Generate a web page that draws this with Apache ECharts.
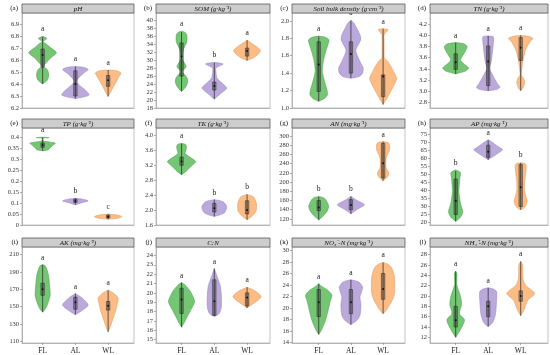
<!DOCTYPE html>
<html><head><meta charset="utf-8">
<script src="https://cdn.jsdelivr.net/npm/echarts@6/dist/echarts.min.js"></script>
<style>html,body{margin:0;padding:0;background:#fff}#c{width:550px;height:355px}</style>
</head><body><div id="c"></div>
<script>
// ---------------- DATA ----------------
const groups = ['FL', 'AL', 'WL'];
const panelTitles = ['pH', 'SOM (g·kg⁻¹)', 'Soil bulk density (g·cm⁻³)', 'TN (g·kg⁻¹)',
  'TP (g·kg⁻¹)', 'TK (g·kg⁻¹)', 'AN (mg·kg⁻¹)', 'AP (mg·kg⁻¹)',
  'AK (mg·kg⁻¹)', 'C:N', 'NO₃⁻-N (mg·kg⁻¹)', 'NH₄⁺-N (mg·kg⁻¹)'];
const panelLabels = ['(a)', '(b)', '(c)', '(d)', '(e)', '(f)', '(g)', '(h)', '(i)', '(j)', '(k)', '(l)'];

// y tick labels
const pH_ticks = ['6.2','6.3','6.4','6.5','6.6','6.7','6.8','6.9'];
const SOM_ticks = ['18','20','22','24','26','28','30','32','34','36','38','40'];
const BD_ticks = ['1.0','1.2','1.4','1.6','1.8','2.0'];
const TN_ticks = ['2.8','3.0','3.2','3.4','3.6','3.8','4.0','4.2'];
const TP_ticks = ['0','0.05','0.1','0.15','0.2','0.25','0.3','0.35','0.4'];
const TK_ticks = ['1.6','2.0','2.4','2.8','3.2','3.6','4.0'];
const AN_ticks = ['120','140','160','180','200','220','240','260','280','300'];
const AP_ticks = ['20','25','30','35','40','45','50','55','60','65','70','75'];
const AK_ticks = ['110','130','150','170','190','210'];
const CN_ticks = ['15','16','17','18','19','20','21','22','23','24'];
const NO3_ticks = ['14','16','18','20','22','24','26','28','30'];
const NH4_ticks = ['12','14','16','18','20','22','24','26','28'];

// axis ranges [min, max]
const pH_range = [6.2, 6.99];
const SOM_range = [18, 41.8];
const BD_range = [1.0, 2.09];
const TN_range = [2.7, 4.4];
const TP_range = [0, 0.443];
const TK_range = [1.6, 4.2];
const AN_range = [106.8, 317.6];
const AP_range = [18.5, 78.7];
const AK_range = [108, 218.8];
const CN_range = [14.65, 24.9];
const NO3_range = [13.9, 30.6];
const NH4_range = [10.9, 29.5];

// violin profiles: [value, half width (in category units)]
const pH_FL = [[6.796,0],[6.786,0.09],[6.777,0.13],[6.765,0.07],[6.75,0.01],[6.735,0.1],[6.70,0.25],[6.66,0.42],[6.62,0.26],[6.58,0.12],[6.545,0.02],[6.53,0.1],[6.51,0.16],[6.475,0.185],[6.44,0.16],[6.42,0.1],[6.40,0]];
const pH_AL = [[6.545,0],[6.538,0.25],[6.52,0.39],[6.49,0.25],[6.45,0.1],[6.42,0.03],[6.39,0.12],[6.35,0.3],[6.31,0.42],[6.295,0.3],[6.278,0]];
const pH_WL = [[6.516,0],[6.512,0.22],[6.50,0.35],[6.49,0.39],[6.46,0.33],[6.42,0.25],[6.38,0.17],[6.34,0.09],[6.31,0.03],[6.296,0]];
const SOM_FL = [[37.25,0],[37.0,0.1],[36.3,0.16],[34.6,0.16],[33.5,0.1],[32.5,0.05],[31.5,0.03],[30.4,0.02],[29.5,0.07],[28.4,0.14],[27.6,0.07],[27.1,0.02],[26.3,0.1],[25.5,0.17],[24.6,0.19],[23.6,0.15],[22.8,0.08],[22.1,0]];
const SOM_AL = [[29.45,0],[29.2,0.2],[29.0,0.27],[28.5,0.15],[28.0,0.05],[27.0,0.05],[25.5,0.08],[24.5,0.2],[23.5,0.33],[23.0,0.38],[22.3,0.3],[21.3,0.15],[20.2,0]];
const SOM_WL = [[35.0,0],[34.2,0.14],[33.4,0.28],[32.5,0.41],[31.8,0.37],[31.0,0.27],[30.4,0.15],[29.9,0]];
const BD_FL = [[1.825,0],[1.81,0.22],[1.78,0.32],[1.72,0.28],[1.65,0.22],[1.55,0.15],[1.475,0.12],[1.42,0.11],[1.35,0.15],[1.28,0.2],[1.20,0.26],[1.15,0.27],[1.11,0.18],[1.076,0]];
const BD_AL = [[2.01,0],[1.97,0.1],[1.90,0.2],[1.83,0.29],[1.78,0.3],[1.72,0.22],[1.665,0.15],[1.60,0.2],[1.52,0.3],[1.46,0.38],[1.40,0.36],[1.36,0.25],[1.34,0]];
const BD_WL = [[1.91,0],[1.90,0.15],[1.88,0.12],[1.84,0.03],[1.80,0.03],[1.65,0.03],[1.57,0.04],[1.54,0.13],[1.48,0.24],[1.42,0.32],[1.34,0.42],[1.27,0.35],[1.18,0.22],[1.10,0.1],[1.04,0]];
const TN_FL = [[3.87,0],[3.85,0.25],[3.80,0.35],[3.72,0.3],[3.64,0.22],[3.56,0.15],[3.49,0.25],[3.44,0.36],[3.41,0.40],[3.36,0.3],[3.31,0]];
const TN_AL = [[3.99,0],[3.98,0.15],[3.95,0.17],[3.80,0.15],[3.65,0.12],[3.50,0.08],[3.41,0.03],[3.33,0.1],[3.22,0.2],[3.14,0.28],[3.07,0.36],[3.03,0.25],[3.01,0]];
const TN_WL = [[4.0,0],[3.98,0.25],[3.945,0.38],[3.90,0.3],[3.82,0.22],[3.74,0.15],[3.56,0.07],[3.38,0.03],[3.29,0.02],[3.24,0.08],[3.17,0.12],[3.10,0.1],[3.03,0.04],[3.01,0]];
const TP_FL = [[0.401,0],[0.399,0.2],[0.396,0.01],[0.385,0.02],[0.379,0.2],[0.374,0.39],[0.366,0.33],[0.359,0.28],[0.352,0.22],[0.344,0.18],[0.339,0]];
const TP_AL = [[0.122,0],[0.118,0.22],[0.11,0.39],[0.102,0.2],[0.092,0]];
const TP_WL = [[0.05,0],[0.045,0.3],[0.038,0.42],[0.031,0.3],[0.026,0]];
const TK_FL = [[3.79,0],[3.76,0.12],[3.70,0.15],[3.60,0.13],[3.52,0.11],[3.42,0.25],[3.30,0.43],[3.18,0.3],[3.05,0.15],[2.95,0]];
const TK_AL = [[2.28,0],[2.25,0.18],[2.20,0.3],[2.08,0.38],[1.94,0.32],[1.88,0.2],[1.83,0]];
const TK_WL = [[2.42,0],[2.38,0.14],[2.35,0.2],[2.20,0.28],[1.99,0.28],[1.88,0.2],[1.80,0.1],[1.74,0]];
const AN_FL = [[169,0],[166,0.15],[161.7,0.22],[155,0.27],[147,0.31],[138,0.27],[128,0.16],[117.8,0]];
const AN_AL = [[169,0],[160,0.2],[150.7,0.42],[141,0.2],[131,0]];
const AN_WL = [[288,0],[286,0.15],[282,0.2],[270,0.2],[262,0.15],[253,0.1],[238.5,0.08],[230,0.1],[224,0.15],[218,0.18],[210,0.12],[203,0]];
const AP_FL = [[52.8,0],[51.5,0.12],[50.7,0.15],[48,0.13],[45.5,0.12],[39.3,0.1],[34,0.13],[31,0.16],[26.8,0.22],[24,0.17],[22,0.08],[20.6,0]];
const AP_AL = [[71.5,0],[69,0.18],[67,0.32],[65.2,0.44],[63,0.3],[61,0.15],[59,0]];
const AP_WL = [[57.3,0],[56.5,0.14],[55,0.17],[50,0.15],[45,0.12],[40,0.12],[35.5,0.17],[33.5,0.2],[31,0.17],[29,0.1],[27.9,0]];
const AK_FL = [[198.5,0],[197,0.08],[194,0.12],[186,0.18],[175,0.21],[163,0.23],[156,0.18],[150,0.12],[146,0.06],[143.6,0]];
const AK_AL = [[165,0],[160,0.2],[152,0.39],[146,0.22],[140.5,0]];
const AK_WL = [[169,0],[166,0.15],[162,0.27],[159.6,0.31],[152,0.27],[144,0.22],[135,0.14],[127,0.07],[120.7,0]];
const CN_FL = [[21.1,0],[20.8,0.12],[20.2,0.26],[19.6,0.35],[19.06,0.40],[18.3,0.3],[17.5,0.18],[16.8,0.08],[16.34,0]];
const CN_AL = [[22.6,0],[22.0,0.06],[21.4,0.12],[20.8,0.18],[20.0,0.21],[19.2,0.22],[18.4,0.21],[17.8,0.15],[17.6,0.08],[17.5,0]];
const CN_WL = [[20.6,0],[20.2,0.25],[19.6,0.43],[19.0,0.25],[18.4,0]];
const NO3_FL = [[24.2,0],[23.9,0.06],[23.65,0.12],[23.0,0.3],[22.2,0.41],[21.2,0.36],[19.3,0.28],[18.0,0.22],[17.0,0.15],[16.0,0.07],[15.4,0]];
const NO3_AL = [[24.9,0],[24.7,0.15],[24.5,0.25],[23.65,0.36],[22.8,0.33],[21.9,0.28],[20.5,0.31],[18.7,0.28],[17.8,0.18],[17.1,0]];
const NO3_WL = [[27.9,0],[27.6,0.15],[27.1,0.25],[26.0,0.33],[25.1,0.36],[22.8,0.36],[21.5,0.3],[20.5,0.2],[19.6,0.1],[19.0,0]];
const NH4_FL = [[24.8,0],[24.5,0.03],[24.0,0.04],[22.4,0.03],[21.2,0.08],[19.9,0.15],[18.3,0.18],[17.0,0.12],[16.4,0.13],[15.4,0.27],[14.1,0.2],[13.0,0.1],[12.0,0]];
const NH4_AL = [[21.6,0],[21.3,0.18],[20.8,0.26],[18.3,0.25],[16.35,0.22],[15.0,0.15],[14.4,0.07],[14.1,0]];
const NH4_WL = [[26.7,0],[26.3,0.04],[26.0,0.06],[23.4,0.07],[22.4,0.12],[21.8,0.2],[20.5,0.43],[19.2,0.22],[17.6,0.12],[16.8,0.06],[16.2,0]];

// box stats per group: [min, q1, median, q3, max]
const pH_box = [[6.40,6.54,6.64,6.69,6.79],[6.278,6.30,6.40,6.51,6.545],[6.296,6.38,6.43,6.47,6.516]];
const SOM_box = [[22.2,26.0,30.9,34.3,37.0],[20.3,22.5,23.5,24.5,29.3],[29.9,31.0,32.3,33.0,35.0]];
const BD_box = [[1.08,1.19,1.50,1.76,1.82],[1.345,1.40,1.62,1.76,2.0],[1.04,1.13,1.36,1.38,1.91]];
const TN_box = [[3.31,3.39,3.52,3.67,3.87],[3.01,3.10,3.53,3.81,3.99],[3.01,3.55,3.78,3.96,4.0]];
const TP_box = [[0.339,0.355,0.365,0.375,0.40],[0.093,0.103,0.11,0.118,0.122],[0.026,0.032,0.038,0.045,0.05]];
const TK_box = [[2.95,3.20,3.30,3.42,3.78],[1.83,1.95,2.05,2.18,2.28],[1.74,1.90,2.00,2.25,2.42]];
const AN_box = [[118,138,145,160,168],[131,140,150,162,169],[203,209,241,284,288]];
const AP_box = [[20.8,25,33.5,47,52],[59,60.5,64,68,71],[28,30,42,56,57]];
const AK_box = [[143.6,163,170,177,198],[141,147,155,161,165],[121,146,151,156,169]];
const CN_box = [[16.34,17.8,19.3,20.5,21.1],[17.5,17.6,19.1,21.4,22.6],[18.4,18.6,19.5,20.0,20.6]];
const NO3_box = [[15.4,18.5,21.0,23.2,24.2],[17.1,19.0,21.0,23.2,24.9],[19.0,21.5,23.3,26.0,27.9]];
const NH4_box = [[12.0,14.0,15.3,18.0,24.8],[14.1,16.0,18.0,19.0,21.6],[16.2,19.0,20.0,21.0,26.7]];

// significance letters
const pH_letters = ['a','a','a'];
const SOM_letters = ['a','b','a'];
const BD_letters = ['a','a','a'];
const TN_letters = ['a','a','a'];
const TP_letters = ['a','b','c'];
const TK_letters = ['a','b','b'];
const AN_letters = ['b','b','a'];
const AP_letters = ['b','a','b'];
const AK_letters = ['a','a','a'];
const CN_letters = ['a','a','a'];
const NO3_letters = ['a','a','a'];
const NH4_letters = ['a','a','a'];

// ---------------- LAYOUT / STYLE ----------------
const colLeft = [22, 156, 292, 430];
const colWidth = [112, 114, 113, 118];
const rowTop = [13, 128, 247];
const rowHeight = [95, 97, 96];
const headerH = 9;
const colXRange = [[0.37, 3.79], [0.22, 3.70], [0.17, 3.68], [0.21, 3.84]];
const fills = ['#68c068', '#b6a2d8', '#fbb67b'];
const edges = ['#4f9f4f', '#9885c2', '#e49b5e'];
const SERIF = '"Liberation Serif","Times New Roman",serif';

const panels = [
  [pH_ticks, pH_range, [pH_FL, pH_AL, pH_WL], pH_box, pH_letters],
  [SOM_ticks, SOM_range, [SOM_FL, SOM_AL, SOM_WL], SOM_box, SOM_letters],
  [BD_ticks, BD_range, [BD_FL, BD_AL, BD_WL], BD_box, BD_letters],
  [TN_ticks, TN_range, [TN_FL, TN_AL, TN_WL], TN_box, TN_letters],
  [TP_ticks, TP_range, [TP_FL, TP_AL, TP_WL], TP_box, TP_letters],
  [TK_ticks, TK_range, [TK_FL, TK_AL, TK_WL], TK_box, TK_letters],
  [AN_ticks, AN_range, [AN_FL, AN_AL, AN_WL], AN_box, AN_letters],
  [AP_ticks, AP_range, [AP_FL, AP_AL, AP_WL], AP_box, AP_letters],
  [AK_ticks, AK_range, [AK_FL, AK_AL, AK_WL], AK_box, AK_letters],
  [CN_ticks, CN_range, [CN_FL, CN_AL, CN_WL], CN_box, CN_letters],
  [NO3_ticks, NO3_range, [NO3_FL, NO3_AL, NO3_WL], NO3_box, NO3_letters],
  [NH4_ticks, NH4_range, [NH4_FL, NH4_AL, NH4_WL], NH4_box, NH4_letters]
];

const grid = [], xAxis = [], yAxis = [], series = [], graphic = [];
panels.forEach((p, k) => {
  const r = Math.floor(k / 4), c = k % 4;
  const [ticks, range, profs, boxes, letters] = p;
  const left = colLeft[c], top = rowTop[r], w = colWidth[c], h = rowHeight[r];
  grid.push({left: left, top: top, width: w, height: h, show: true,
    borderColor: '#b4b4b4', borderWidth: 0.8, backgroundColor: '#fff'});
  const bottomRow = r === 2;
  xAxis.push({type: 'value', gridIndex: k, min: colXRange[c][0], max: colXRange[c][1],
    splitLine: {show: false},
    axisLine: {show: true, lineStyle: {color: '#a8a8a8', width: 0.8}},
    axisTick: {show: bottomRow, customValues: [1, 2, 3], length: 2, lineStyle: {color: '#777', width: 0.6}},
    axisLabel: {show: bottomRow, customValues: [1, 2, 3], formatter: v => groups[Math.round(v) - 1] || '',
      fontFamily: SERIF, fontSize: 7.5, color: '#222', margin: 4}
  });
  const tv = ticks.map(Number);
  yAxis.push({type: 'value', gridIndex: k, min: range[0], max: range[1],
    splitLine: {show: false},
    axisLine: {show: true, lineStyle: {color: '#a8a8a8', width: 0.8}},
    axisTick: {show: true, customValues: tv, length: 2, lineStyle: {color: '#777', width: 0.6}},
    axisLabel: {show: true, customValues: tv, margin: 3, fontFamily: SERIF, fontSize: 6.5, color: '#333',
      formatter: v => { const i = tv.findIndex(t => Math.abs(t - v) < 1e-9); return i >= 0 ? ticks[i] : ''; }}
  });
  series.push({
    type: 'custom', xAxisIndex: k, yAxisIndex: k,
    data: groups.map((g, i) => [i + 1]),
    renderItem: function (params, api) {
      const i = params.dataIndex, gx = api.value(0);
      const prof = profs[i], b = boxes[i];
      const pts = [];
      prof.forEach(d => pts.push(api.coord([gx - d[1], d[0]])));
      for (let j = prof.length - 1; j >= 0; j--) pts.push(api.coord([gx + prof[j][1], prof[j][0]]));
      const pMin = api.coord([gx, b[0]]), pQ1 = api.coord([gx, b[1]]), pMed = api.coord([gx, b[2]]),
            pQ3 = api.coord([gx, b[3]]), pMax = api.coord([gx, b[4]]);
      const topV = Math.max(b[4], prof[0][0]);
      const pTop = api.coord([gx, topV]);
      const bw = 3.4;
      return {type: 'group', children: [
        {type: 'polygon', shape: {points: pts, smooth: 0.25},
          style: {fill: fills[i], stroke: edges[i], lineWidth: 0.6, opacity: 0.92}},
        {type: 'line', shape: {x1: pMin[0], y1: pMin[1], x2: pMax[0], y2: pMax[1]},
          style: {stroke: '#222', lineWidth: 0.7}},
        {type: 'rect', shape: {x: pQ3[0] - bw / 2, y: pQ3[1], width: bw, height: pQ1[1] - pQ3[1]},
          style: {fill: 'rgba(40,40,40,0.35)', stroke: '#222', lineWidth: 0.5}},
        {type: 'circle', shape: {cx: pMed[0], cy: pMed[1], r: 1.0}, style: {fill: '#111'}},
        {type: 'text', style: {text: letters[i], x: pTop[0], y: pTop[1] - 7, align: 'center',
          verticalAlign: 'middle', fontFamily: SERIF, fontSize: 7.5, fill: '#222'}}
      ]};
    }
  });
  // header strip
  graphic.push({type: 'rect', shape: {x: left, y: top - headerH, width: w, height: headerH},
    style: {fill: '#cdcdcd', stroke: '#5a5a5a', lineWidth: 0.8}, z: 10});
  graphic.push({type: 'text', style: {text: panelTitles[k], x: left + w / 2, y: top - headerH / 2 + 0.3,
    align: 'center', verticalAlign: 'middle', fontFamily: SERIF, fontStyle: 'italic', fontSize: 7, fill: '#111'}, z: 11});
  graphic.push({type: 'text', style: {text: panelLabels[k], x: left - 4, y: top - headerH / 2,
    align: 'right', verticalAlign: 'middle', fontFamily: SERIF, fontSize: 7, fill: '#111'}, z: 11});
});

const chart = echarts.init(document.getElementById('c'));
chart.setOption({animation: false, backgroundColor: '#fff', grid, xAxis, yAxis, series, graphic});
</script></body></html>
